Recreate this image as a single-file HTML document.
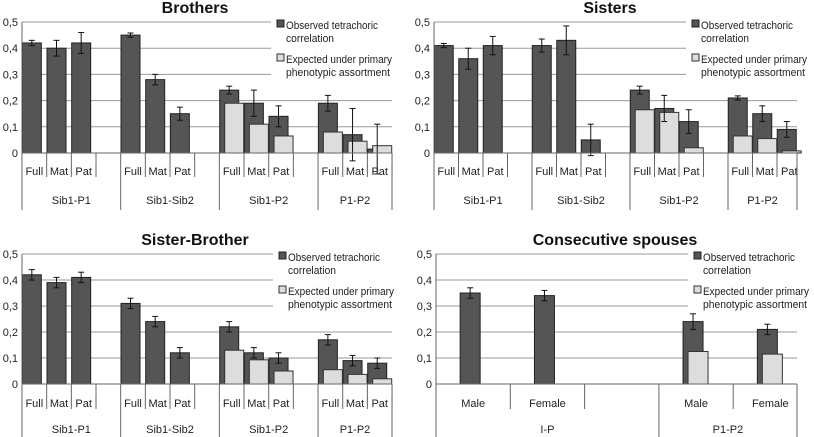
<!DOCTYPE html>
<html><head><meta charset="utf-8"><style>
html,body{margin:0;padding:0;background:#fff;}
svg{display:block;font-family:"Liberation Sans",sans-serif;}
</style></head><body>
<svg id="chart" width="814" height="437" viewBox="0 0 814 437" xmlns="http://www.w3.org/2000/svg"></svg>
<script>
const yTicks = [0, 0.1, 0.2, 0.3, 0.4, 0.5];
const yTickLabels = ["0", "0,1", "0,2", "0,3", "0,4", "0,5"];
const subCats = ["Full", "Mat", "Pat"];
const groups = ["Sib1-P1", "Sib1-Sib2", "Sib1-P2", "P1-P2"];
const legendObs = ["Observed tetrachoric", "correlation"];
const legendExp = ["Expected under primary", "phenotypic assortment"];

const brothersObs = [[0.42,0.40,0.42],[0.45,0.28,0.15],[0.24,0.19,0.14],[0.19,0.07,0.015]];
const brothersErr = [[0.01,0.03,0.04],[0.008,0.02,0.025],[0.015,0.05,0.04],[0.03,0.10,0.095]];
const brothersExp = [null,null,[0.19,0.11,0.065],[0.08,0.045,0.028]];

const sistersObs = [[0.41,0.36,0.41],[0.41,0.43,0.05],[0.24,0.17,0.12],[0.21,0.15,0.09]];
const sistersErr = [[0.008,0.04,0.035],[0.025,0.055,0.06],[0.015,0.05,0.045],[0.008,0.03,0.03]];
const sistersExp = [null,null,[0.165,0.155,0.02],[0.065,0.055,0.008]];

const sbObs = [[0.42,0.39,0.41],[0.31,0.24,0.12],[0.22,0.12,0.10],[0.17,0.09,0.08]];
const sbErr = [[0.02,0.02,0.02],[0.02,0.02,0.02],[0.02,0.02,0.02],[0.02,0.02,0.02]];
const sbExp = [null,null,[0.13,0.093,0.05],[0.055,0.037,0.02]];

const spGroups = ["I-P", "P1-P2"];
const spCats = ["Male", "Female"];
const spObs = [[0.35,0.34],[0.24,0.21]];
const spErr = [[0.02,0.02],[0.03,0.02]];
const spExp = [null,[0.125,0.115]];

const NS = "http://www.w3.org/2000/svg";
const svg = document.getElementById("chart");
function mk(tag, attrs, parent) {
  const e = document.createElementNS(NS, tag);
  for (const k in attrs) e.setAttribute(k, attrs[k]);
  (parent || svg).appendChild(e);
  return e;
}

function panel(o) {
  const g = mk("g", {});
  
  
  const clipId = o.name + "-clip";
  const cp = mk("clipPath", {id: clipId}, g);
  mk("rect", {x: o.x0 - 30, y: o.top - 40, width: o.right - o.x0 + 38, height: 260}, cp);
  const inner = mk("g", {"clip-path": "url(#" + clipId + ")"}, g);
  const y = v => o.base - v / 0.5 * (o.base - o.top);
  const slotsPerGroup = o.cats.length + 1;
  const xs = (gi, ci) => o.x0 + (gi * slotsPerGroup + ci) * o.slot;

  const t = mk("text", {x: o.titleX, y: o.top - 9, "text-anchor": "middle", "font-size": 16, "font-weight": "bold", fill: "#111"}, g);
  t.textContent = o.title;
  
  

  yTicks.forEach((v, i) => {
    if (v > 0) {
      const ln = mk("line", {x1: o.x0, x2: o.right, y1: y(v), y2: y(v), stroke: "#9a9a9a", "stroke-width": 1}, inner);
      
      
    }
    const tl = mk("text", {x: o.x0 - 4, y: y(v) + 4, "text-anchor": "end", "font-size": 11, fill: "#222"}, g);
    tl.textContent = yTickLabels[i];
    
    
  });

  mk("rect", {x: o.legX - 6, y: o.top - 8, width: o.right - o.legX + 12, height: 62, fill: "#fff"}, g);
  const lg = mk("g", {}, g);
  
  
  mk("rect", {x: o.legX, y: o.top - 2, width: 7, height: 7, fill: "#555", stroke: "#222"}, lg);
  mk("rect", {x: o.legX, y: o.top + 32, width: 7, height: 7, fill: "#ddd", stroke: "#333"}, lg);
  const lens = [[92, 48], [106, 104]];
  [[legendObs, o.top + 7], [legendExp, o.top + 41]].forEach(([lines, ly], li) => {
    lines.forEach((s, k) => {
      const tx = mk("text", {x: o.legX + 9, y: ly + k * 13, "font-size": 11, fill: "#222", textLength: lens[li][k], lengthAdjust: "spacingAndGlyphs"}, lg);
      tx.textContent = s;
    });
  });

  o.obs.forEach((arr, gi) => {
    arr.forEach((v, ci) => {
      const sx = xs(gi, ci) + o.slot / 2;
      const b = mk("rect", {x: sx + o.dOff, y: y(v), width: o.bw, height: y(0) - y(v), fill: "#555", stroke: "#222", "stroke-width": 1}, inner);
      
      
    });
    if (o.exp[gi]) o.exp[gi].forEach((v, ci) => {
      const sx = xs(gi, ci) + o.slot / 2;
      const b = mk("rect", {x: sx + o.dOff + 5, y: y(v), width: o.bw, height: y(0) - y(v), fill: "#ddd", stroke: "#333", "stroke-width": 1}, inner);
      
      
    });
  });
  o.obs.forEach((arr, gi) => arr.forEach((v, ci) => {
    const cx = xs(gi, ci) + o.slot / 2 + o.dOff + o.bw / 2;
    const e = o.err[gi][ci];
    const eg = mk("g", {stroke: "#111", "stroke-width": 1}, inner);
    
    
    mk("line", {x1: cx, x2: cx, y1: y(v - e), y2: y(v + e)}, eg);
    mk("line", {x1: cx - 3, x2: cx + 3, y1: y(v - e), y2: y(v - e)}, eg);
    mk("line", {x1: cx - 3, x2: cx + 3, y1: y(v + e), y2: y(v + e)}, eg);
  }));

  mk("line", {x1: o.x0, x2: o.x0, y1: o.top, y2: o.bottom, stroke: "#666"}, g);
  mk("line", {x1: o.x0, x2: o.right, y1: o.base, y2: o.base, stroke: "#666"}, inner);
  o.groups.forEach((gname, gi) => {
    for (let ci = 0; ci < slotsPerGroup; ci++) {
      const sx = xs(gi, ci);
      if (sx > o.right + 0.5) continue;
      mk("line", {x1: sx, x2: sx, y1: o.base, y2: ci === 0 ? o.bottom : o.subBottom, stroke: "#666"}, inner);
    }
    o.cats.forEach((c, ci) => {
      const tx = mk("text", {x: xs(gi, ci) + o.slot / 2, y: o.subY, "text-anchor": "middle", "font-size": 11, fill: "#222"}, inner);
      tx.textContent = c;
      
      
    });
    const gx0 = xs(gi, 0), gx1 = Math.min(xs(gi, slotsPerGroup), o.right);
    const gt = mk("text", {x: (gx0 + gx1) / 2, y: o.grpY, "text-anchor": "middle", "font-size": 11, fill: "#222"}, inner);
    gt.textContent = gname;
    
    
  });
  mk("line", {x1: o.right, x2: o.right, y1: o.base, y2: o.bottom, stroke: "#666"}, inner);
}

panel({name: "brothers-panel", title: "Brothers", titleX: 195, x0: 22, right: 392, slot: 24.67, top: 22, base: 153, subBottom: 177, bottom: 210, subY: 175, grpY: 204, legX: 277, bw: 19, dOff: -12, cats: subCats, groups: groups, obs: brothersObs, err: brothersErr, exp: brothersExp});
panel({name: "sisters-panel", title: "Sisters", titleX: 610, x0: 434, right: 797, slot: 24.5, top: 22, base: 153, subBottom: 177, bottom: 210, subY: 175, grpY: 204, legX: 692, bw: 19, dOff: -12, cats: subCats, groups: groups, obs: sistersObs, err: sistersErr, exp: sistersExp});
panel({name: "sister-brother-panel", title: "Sister-Brother", titleX: 195, x0: 22, right: 392, slot: 24.67, top: 254, base: 384, subBottom: 409, bottom: 437, subY: 407, grpY: 433, legX: 279, bw: 19, dOff: -12, cats: subCats, groups: groups, obs: sbObs, err: sbErr, exp: sbExp});
panel({name: "consecutive-spouses-panel", title: "Consecutive spouses", titleX: 615, x0: 436, right: 797, slot: 74.3, top: 254, base: 384, subBottom: 409, bottom: 437, subY: 407, grpY: 433, legX: 694, bw: 20, dOff: -13, cats: spCats, groups: spGroups, obs: spObs, err: spErr, exp: spExp});
</script>
</body></html>
